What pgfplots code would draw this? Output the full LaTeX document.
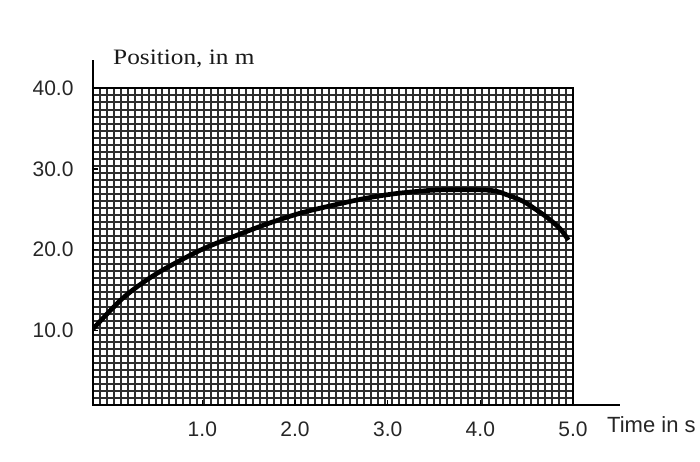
\documentclass[border=0pt]{standalone}
\usepackage{pgfplots}
\pgfplotsset{compat=1.18}
\usetikzlibrary{calc}
\usepackage{fontspec}
\setmainfont{Liberation Sans}
\newfontfamily\seriffont{Liberation Serif}
\usepackage{graphicx}
\begin{document}
\begin{tikzpicture}
\begin{axis}[
  name=ax,
  scale only axis, width=480bp, height=317bp,
  xmin=-0.18, xmax=5.0, ymin=0.8, ymax=40,
  xtick={1,2,3,4,5}, ytick={10,20,30,40},
  minor xtick={-0.18,-0.105,...,5.0},
  minor ytick={0.8,1.67,...,40},
  grid=minor,
  minor grid style={black!82, line width=2bp},
  tick pos=left, tick align=inside,
  major tick length=5bp, minor tick length=0pt,
  tick style={line width=1.5pt, black},
  axis line style={line width=2.2pt, black},
  ticklabel style={font=\fontsize{21bp}{24bp}\selectfont, text=black!85},
  xticklabel style={yshift=-13bp},
  yticklabel style={xshift=-16bp},
  /pgf/number format/fixed,
  /pgf/number format/fixed zerofill,
  /pgf/number format/precision=1,
  /pgf/number format/assume math mode=true,
]
\addplot[black, line width=4.7pt, smooth, tension=0.5] coordinates {
  (-0.18,10.2) (0.15,14.1) (0.5,17.0) (0.97,19.9) (1.33,21.6) (1.70,23.2)
  (2.05,24.5) (2.41,25.5) (2.78,26.4) (3.13,27.0) (3.565,27.4) (4.10,27.35)
  (4.285,26.8) (4.46,26.0) (4.57,25.2) (4.72,24.0) (4.86,22.6) (4.95,21.2)
};
\end{axis}
\draw[line width=1.8pt, black] (ax.north west) -- ++(0,28bp);
\draw[line width=1.5pt, black] (ax.south east) -- ++(47bp,0);
\node[anchor=base west, inner sep=0pt, font=\fontsize{22bp}{26bp}\selectfont, text=black!85]
  at ($(ax.south east)+(34bp,-27bp)$) {Time in s};
\node[anchor=base west, inner sep=0pt, font=\seriffont\fontsize{22bp}{26bp}\selectfont, text=black!90]
  at ($(ax.north west)+(20bp,23bp)$) {\scalebox{1.15}[1]{Position, in m}};
\path (ax.south west) ++(-93bp,-57bp) rectangle ++(700bp,462bp);
\end{tikzpicture}
\end{document}
